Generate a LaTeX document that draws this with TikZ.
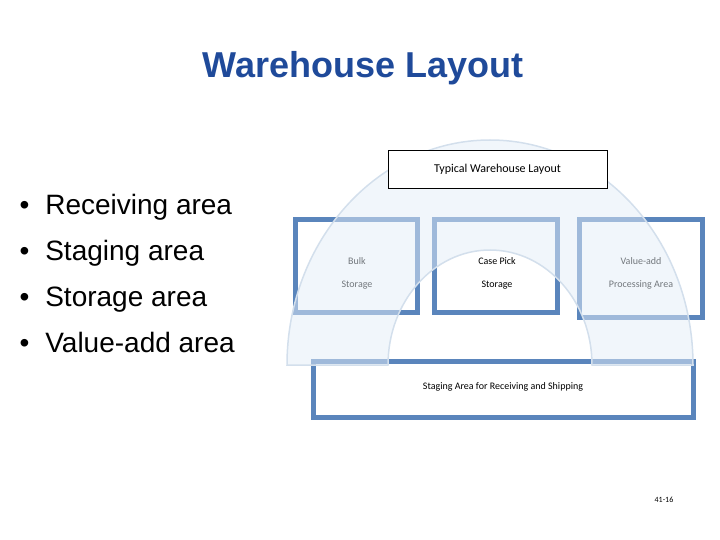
\documentclass[tikz,border=0pt]{standalone}
\usepackage{fontspec}
\setmainfont{Liberation Sans}
\newfontfamily\carlitofont{Carlito}
\begin{document}
\begin{tikzpicture}[x=1pt,y=-1pt,
  area/.style={draw=blueedge,line width=5pt,fill=white},
  lbl/.style={font=\carlitofont\fontsize{10}{12}\selectfont,align=center}]
\definecolor{blueedge}{HTML}{5A85BC}
\definecolor{archfill}{HTML}{E4EEF8}
\definecolor{archline}{HTML}{D3DFEC}
\definecolor{titleblue}{HTML}{1F4A9A}
\useasboundingbox (0,0) rectangle (720,540);
\node[font=\bfseries\fontsize{36}{42}\selectfont,text=titleblue] (title) at (363,68) {Warehouse Layout};
\node[anchor=west,align=left,font=\fontsize{28}{46}\selectfont] (list) at (16,273)
 {\textbullet\hspace{16pt}Receiving area\\ \textbullet\hspace{16pt}Staging area\\ \textbullet\hspace{16pt}Storage area\\ \textbullet\hspace{16pt}Value-add area};
\draw[area] (295.5,219.5) rectangle (417.5,312.5);
\node[lbl] (bulk) at (357,273) {Bulk\\[11pt]Storage};
\draw[area] (434.5,219.5) rectangle (557.5,312.5);
\node[lbl] (case) at (497,273) {Case Pick\\[11pt]Storage};
\draw[area] (579.5,219.5) rectangle (702.5,317.5);
\node[lbl] (value) at (641,273) {Value-add\\[11pt]Processing Area};
\draw[area] (313.5,361.5) rectangle (693.5,417.5);
\node[lbl] (stage) at (503,387) {Staging Area for Receiving and Shipping};
\draw[draw=archline,line width=1.5pt,fill=archfill,fill opacity=0.5]
  (287,365) arc[start angle=180,end angle=360,x radius=203,y radius=225]
  -- (592,365) arc[start angle=0,end angle=-180,x radius=102,y radius=115] -- cycle;
\node[draw=black,fill=white,line width=0.6pt,minimum width=219pt,minimum height=38pt,font=\carlitofont\fontsize{12}{14}\selectfont] (typ) at (497.5,169) {Typical Warehouse Layout};
\node[font=\carlitofont\fontsize{8}{10}\selectfont] (pg) at (664,500) {41-16};
\end{tikzpicture}
\end{document}
